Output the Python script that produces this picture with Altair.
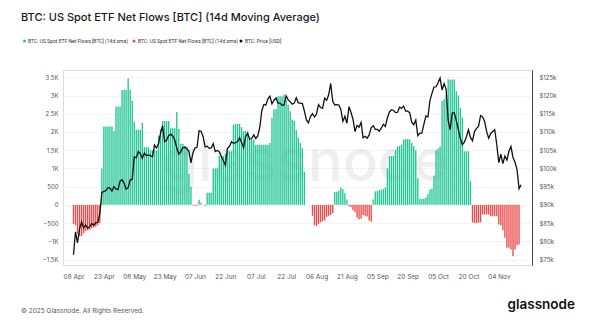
import altair as alt
import pandas as pd

# ---------------- data ----------------
flow_start = "2025-04-08"
flows = [
    -520, -560, -800, -860, -860, -780, -720, -700, -680, -640, -620, -600, -560, -500,
    1000, 2150, 2150, 2150, 2150, 2150, 2020,
    2700, 2700, 2700, 3150, 3150, 3150, 3470, 3150, 2850, 2280,
    2060, 2060, 2060, 2250, 1580, 1580, 1580, 1500, 1500, 1500,
    1500, 1900, 2080, 2300, 2300, 2300, 2300, 2100, 2100, 2100,
    2550, 2080, 1680, 1680, 1620, 1600, 850, 500, -20, -25,
    -15, 140, 60, 0, -25, 330, 330, 330, 1000, 1000,
    1000, 1340, 1340, 1340, 1400, 1470, 1470, 1470, 2200, 2220,
    2220, 2220, 2130, 2020, 2020, 2020, 1790, 1790, 1790, 1650,
    1650, 1650, 1650, 1650, 1650, 1650, 1700, 2390, 2620, 2620,
    2980, 2980, 2980, 3030, 2880, 2750, 2570, 2340, 2300, 2060,
    1840, 1700, 1560, 900, 0, 0, 0, -300, -560, -580,
    -520, -480, -450, -430, -330, -300, -280, -230, 350, 360,
    380, 470, 430, 320, 150, -40, -60, -150, -200, -350,
    -400, -380, -280, -300, -320, -430, -460, 150, 370, 380,
    400, 420, 430, 480, 1000, 1330, 1340, 1350, 1500, 1600,
    1620, 1650, 1790, 1800, 1800, 1790, 1700, 1610, 1500, 740,
    170, 160, 165, 200, 290, 420, 450, 800, 1500, 1550,
    1600, 2850, 2900, 3030, 3440, 3440, 3440, 3440, 3120, 3000,
    2660, 2400, 1470, 1470, 1470, 650, -480, -500, -500, -490,
    -480, -265, -265, -265, -265, -310, -310, -310, -310, -540,
    -560, -700, -905, -1180, -1180, -1225, -1410, -1225, -1100, -1090,
]

price_start = "2025-04-08"
price_k = [
    # Apr 8-30
    76.3, 82.6, 79.6, 83.4, 85.3, 83.7, 84.5, 83.6, 84.0, 84.9, 84.4, 85.1, 85.2, 87.5,
    93.4, 93.7, 93.9, 94.7, 94.6, 93.8, 95.0, 94.3, 94.2,
    # May
    96.5, 96.9, 95.9, 94.3, 94.7, 96.8, 97.0, 103.2, 102.9, 104.6, 104.1, 102.8, 104.2,
    103.5, 103.7, 103.5, 103.2, 106.4, 105.6, 106.8, 109.7, 111.7, 107.3, 107.8, 109.0,
    109.4, 108.9, 107.8, 105.6, 103.9, 104.6,
    # Jun
    105.7, 105.8, 105.4, 104.7, 101.5, 104.3, 105.6, 105.8, 110.3, 110.2, 108.7, 105.9,
    106.1, 105.5, 105.6, 106.8, 104.6, 104.9, 104.6, 103.3, 102.1, 100.9, 105.5, 106.0,
    107.3, 106.9, 107.1, 107.3, 108.4, 107.1,
    # Jul
    105.7, 108.8, 109.6, 108.0, 108.2, 109.2, 108.2, 108.9, 111.3, 115.9, 117.5, 117.4,
    119.1, 119.8, 117.7, 118.7, 119.3, 117.9, 117.9, 117.3, 117.4, 119.9, 118.8, 118.3,
    117.6, 117.9, 119.4, 118.0, 117.9, 117.8, 115.8,
    # Aug
    113.3, 112.5, 114.2, 115.0, 114.1, 115.0, 117.5, 116.7, 116.5, 119.3, 118.7, 120.2,
    123.3, 118.4, 117.4, 117.5, 117.4, 116.2, 112.9, 114.3, 112.4, 116.9, 115.4, 113.5,
    110.1, 111.8, 111.3, 112.6, 108.4, 108.8, 108.3,
    # Sep
    109.2, 111.2, 111.7, 110.7, 110.7, 110.2, 111.1, 112.1, 111.5, 113.9, 115.5, 116.1,
    115.9, 115.3, 115.4, 116.8, 116.5, 117.1, 115.7, 115.7, 115.3, 112.7, 112.0, 113.3,
    109.0, 109.7, 109.7, 112.1, 114.4, 114.1,
    # Oct
    118.6, 120.6, 122.3, 122.4, 123.5, 124.8, 121.5, 123.3, 121.7, 113.2, 110.6, 115.2,
    115.3, 113.1, 110.8, 108.2, 106.5, 107.2, 108.7, 110.6, 108.5, 107.6, 110.1, 111.0,
    111.6, 114.5, 114.1, 112.9, 110.1, 108.3, 109.6,
    # Nov
    110.1, 110.6, 106.5, 101.6, 103.9, 101.3, 103.4, 102.3, 104.7, 106.0, 103.0, 101.7,
    99.7, 94.4, 95.5,
]

left_ticks = [-1500, -1000, -500, 0, 500, 1000, 1500, 2000, 2500, 3000, 3500]
right_ticks = [75000, 80000, 85000, 90000, 95000, 100000, 105000, 110000, 115000, 120000, 125000]
x_tick_dates = [(4, 8), (4, 23), (5, 8), (5, 23), (6, 7), (6, 22), (7, 7), (7, 22),
                (8, 6), (8, 21), (9, 5), (9, 20), (10, 5), (10, 20), (11, 4)]

title_text = "BTC: US Spot ETF Net Flows [BTC] (14d Moving Average)"
legend_labels = ["BTC: US Spot ETF Net Flows [BTC] (14d sma)",
                 "BTC: US Spot ETF Net Flows [BTC] (14d sma)",
                 "BTC: Price [USD]"]

GREEN = "#20c593"
RED = "#e94b4b"
BLACK = "#111111"
FONT = "Inter"
SMALL_FONT = "Roboto"

# ---------------- tables ----------------
fdates = pd.date_range(flow_start, periods=len(flows), freq="D").strftime("%Y-%m-%d")
df_f = pd.DataFrame({"date": fdates, "flow": flows})
df_f["series"] = ["pos" if v >= 0 else "neg" for v in flows]

pdates = pd.date_range(price_start, periods=len(price_k), freq="D").strftime("%Y-%m-%d")
df_p = pd.DataFrame({"date": pdates, "price": [v * 1000 for v in price_k]})

dummy = pd.DataFrame({"a": [0]})

W, H = 469, 195

xscale = alt.Scale(type="utc",
                   domain=[alt.DateTime(year=2025, month=4, date=5, hours=7, utc=True),
                           alt.DateTime(year=2025, month=11, date=17, hours=22, utc=True)])
xaxis = alt.Axis(values=[alt.DateTime(year=2025, month=m, date=d, utc=True) for m, d in x_tick_dates],
                 labelExpr="utcFormat(datum.value, '%d %b')", grid=False, domain=False,
                 ticks=False, labelPadding=8, labelFontSize=6.5, labelColor="#555",
                 labelFont=FONT, title=None)

left_axis = alt.Axis(values=left_ticks, title=None, domain=False, ticks=False,
                     labelExpr="datum.value == 0 ? '0' : (abs(datum.value) >= 1000 ? format(datum.value/1000, '~g') + 'K' : format(datum.value, 'd'))",
                     labelFontSize=6, labelColor="#555", labelFont=FONT, labelPadding=5,
                     grid=True, gridColor="#e4e4e4", gridDash=[2, 2], gridWidth=0.8)

right_axis = alt.Axis(values=right_ticks, title=None, orient="right", ticks=False,
                      domain=True, domainColor="#444", domainWidth=1,
                      labelExpr="'$' + format(datum.value/1000, 'd') + 'k'",
                      labelFontSize=6, labelColor="#555", labelFont=FONT, labelPadding=7,
                      grid=False)

bars = alt.Chart(df_f).mark_bar(width=1.35).encode(
    x=alt.X("date:T", scale=xscale, axis=xaxis),
    y=alt.Y("flow:Q", scale=alt.Scale(domain=[-1650, 3700], nice=False, zero=False), axis=left_axis),
    color=alt.Color("series:N", scale=alt.Scale(domain=["pos", "neg"], range=[GREEN, RED]), legend=None),
)

line = alt.Chart(df_p).mark_line(color=BLACK, strokeWidth=1.3).encode(
    x=alt.X("date:T", scale=xscale, axis=xaxis),
    y=alt.Y("price:Q", scale=alt.Scale(domain=[73500, 127000], nice=False, zero=False), axis=right_axis),
)

watermark = alt.Chart(dummy).mark_text(
    text="glassnode", font=FONT, fontSize=58, fontWeight=500, color="#000000", opacity=0.06,
    align="center", baseline="alphabetic").encode(x=alt.value(242), y=alt.value(111))

title = alt.Chart(dummy).mark_text(
    text=title_text, font=FONT, fontSize=11, fontWeight=500, color="#1a1a1a",
    align="left", baseline="middle").encode(x=alt.value(-42), y=alt.value(-52))

leg_layers = []
leg_pos = [(-38.5, -35), (71, 75), (178, 182)]
leg_cols = [GREEN, RED, BLACK]
for (dx, tx), col, lab in zip(leg_pos, leg_cols, legend_labels):
    leg_layers.append(alt.Chart(dummy).mark_point(filled=True, size=9, color=col, opacity=1)
                      .encode(x=alt.value(dx), y=alt.value(-29)))
    leg_layers.append(alt.Chart(dummy).mark_text(text=lab, font=SMALL_FONT, fontSize=5.0, color="#333",
                                                 align="left", baseline="middle")
                      .encode(x=alt.value(tx), y=alt.value(-29)))

footer = alt.Chart(dummy).mark_text(
    text="© 2025 Glassnode. All Rights Reserved.", font=FONT, fontSize=6.5, color="#555",
    align="left", baseline="middle").encode(x=alt.value(-42), y=alt.value(241))

logo = alt.Chart(dummy).mark_text(
    text="glassnode", font=FONT, fontSize=13.5, fontWeight=600, color="#111",
    align="right", baseline="alphabetic").encode(x=alt.value(512), y=alt.value(239))

data_layer = alt.layer(bars, line).resolve_scale(y="independent")

chart = alt.layer(watermark, data_layer, title, footer, logo, *leg_layers).properties(
    width=W, height=H,
    autosize=alt.AutoSizeParams(type="none"),
    padding={"left": 63, "top": 70, "right": 68, "bottom": 68},
).configure_view(stroke=None).configure(background="white")

chart.save("out.html", embed_options={"renderer": "svg", "actions": False})
